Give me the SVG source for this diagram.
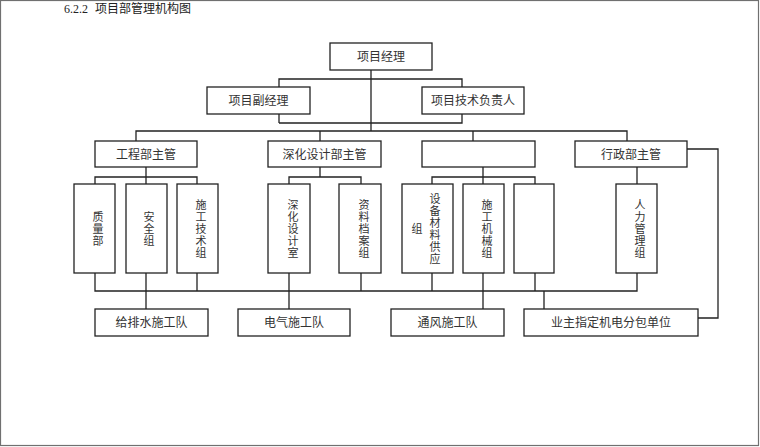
<svg xmlns="http://www.w3.org/2000/svg" width="760" height="447" viewBox="0 0 760 447">
<style>
.box{fill:#fff;stroke:#222;stroke-width:1.3}
.ln{fill:none;stroke:#222;stroke-width:1.3}
.t{font-family:"Liberation Serif","Noto Sans CJK SC",serif;font-size:12px;fill:#333;text-anchor:middle}
.v{font-family:"Liberation Serif","Noto Sans CJK SC",serif;font-size:11px;fill:#333;text-anchor:middle}
</style>
<rect x="0.5" y="0.5" width="758" height="445" fill="#fff" stroke="#707070" stroke-width="1.2"/>
<text y="13" font-family="Liberation Serif,'Noto Sans CJK SC',serif" font-size="12" fill="#222"><tspan x="64">6.2.2</tspan><tspan x="95">项目部管理机构图</tspan></text>
<g id="connectors" class="ln">
<path d="M371 70V131M279 123V79H462V123H279"/>
<path d="M136 141V131H627V141M320 131V141M473 131V141"/>
<path d="M687 149H718V318H698"/>
<path d="M146 167V177M95 184V177H197V184M146 177V184"/>
<path d="M320 167V177M289 184V177H361V184"/>
<path d="M483 167V177M432 184V177H535V184M483 177V184"/>
<path d="M637 167V184"/>
<path d="M95 273V291H637V273M146 273V309M197 273V291M289 273V309M361 273V291M432 273V291M483 273V309M535 273V291M544 291V309"/>
</g>
<g id="n-pm"><rect class="box" x="330" y="43" width="102" height="27"/><text class="t" x="381" y="61">项目经理</text></g>
<g id="n-deputy"><rect class="box" x="207" y="87" width="103" height="27"/><text class="t" x="258.5" y="105">项目副经理</text></g>
<g id="n-tech"><rect class="box" x="422" y="87" width="102" height="27"/><text class="t" x="473" y="105">项目技术负责人</text></g>
<g id="n-eng"><rect class="box" x="95" y="141" width="102" height="26"/><text class="t" x="146" y="158.5">工程部主管</text></g>
<g id="n-design"><rect class="box" x="268" y="141" width="113" height="26"/><text class="t" x="324.5" y="158.5">深化设计部主管</text></g>
<g id="n-blank"><rect class="box" x="422" y="141" width="113" height="26"/></g>
<g id="n-admin"><rect class="box" x="575" y="141" width="112" height="26"/><text class="t" x="631" y="158.5">行政部主管</text></g>
<g id="n-quality"><rect class="box" x="74" y="184" width="41" height="89"/><text class="v"><tspan x="98" y="221">质</tspan><tspan x="98" y="233">量</tspan><tspan x="98" y="245">部</tspan></text></g>
<g id="n-safety"><rect class="box" x="126" y="184" width="41" height="89"/><text class="v"><tspan x="149" y="221">安</tspan><tspan x="149" y="233">全</tspan><tspan x="149" y="245">组</tspan></text></g>
<g id="n-techgrp"><rect class="box" x="177" y="184" width="41" height="89"/><text class="v"><tspan x="201" y="209">施</tspan><tspan x="201" y="221">工</tspan><tspan x="201" y="233">技</tspan><tspan x="201" y="245">术</tspan><tspan x="201" y="257">组</tspan></text></g>
<g id="n-designroom"><rect class="box" x="268" y="184" width="42" height="89"/><text class="v"><tspan x="293" y="209">深</tspan><tspan x="293" y="221">化</tspan><tspan x="293" y="233">设</tspan><tspan x="293" y="245">计</tspan><tspan x="293" y="257">室</tspan></text></g>
<g id="n-archive"><rect class="box" x="339" y="184" width="42" height="89"/><text class="v"><tspan x="364" y="209">资</tspan><tspan x="364" y="221">料</tspan><tspan x="364" y="233">档</tspan><tspan x="364" y="245">案</tspan><tspan x="364" y="257">组</tspan></text></g>
<g id="n-supply"><rect class="box" x="402" y="184" width="51" height="89"/><text class="v"><tspan x="435" y="203">设</tspan><tspan x="435" y="215">备</tspan><tspan x="435" y="227">材</tspan><tspan x="435" y="239">料</tspan><tspan x="435" y="251">供</tspan><tspan x="435" y="263">应</tspan><tspan x="417" y="233">组</tspan></text></g>
<g id="n-machine"><rect class="box" x="463" y="184" width="41" height="89"/><text class="v"><tspan x="487" y="209">施</tspan><tspan x="487" y="221">工</tspan><tspan x="487" y="233">机</tspan><tspan x="487" y="245">械</tspan><tspan x="487" y="257">组</tspan></text></g>
<g id="n-blank2"><rect class="box" x="514" y="184" width="40" height="89"/></g>
<g id="n-hr"><rect class="box" x="616" y="184" width="41" height="89"/><text class="v"><tspan x="640" y="209">人</tspan><tspan x="640" y="221">力</tspan><tspan x="640" y="233">管</tspan><tspan x="640" y="245">理</tspan><tspan x="640" y="257">组</tspan></text></g>
<g id="n-water"><rect class="box" x="95" y="309" width="113" height="27"/><text class="t" x="151.5" y="327">给排水施工队</text></g>
<g id="n-elec"><rect class="box" x="238" y="309" width="112" height="27"/><text class="t" x="294" y="327">电气施工队</text></g>
<g id="n-vent"><rect class="box" x="391" y="309" width="113" height="27"/><text class="t" x="447.5" y="327">通风施工队</text></g>
<g id="n-owner"><rect class="box" x="524" y="309" width="174" height="27"/><text class="t" x="611" y="327">业主指定机电分包单位</text></g>
</svg>
